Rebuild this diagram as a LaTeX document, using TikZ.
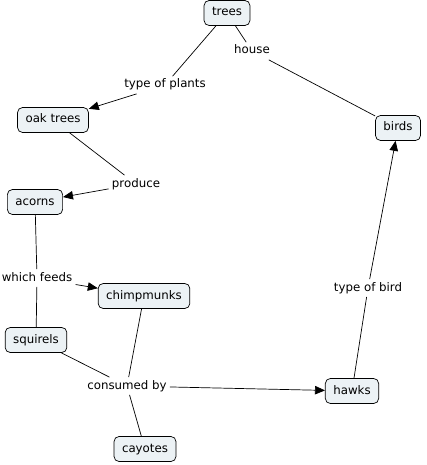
\documentclass[tikz,border=0pt]{standalone}
\usepackage{fontspec}
\setmainfont{DejaVu Sans}
\usetikzlibrary{arrows.meta}
\definecolor{cmapfill}{RGB}{236,242,245}

\begin{document}
\begin{tikzpicture}[x=1pt,y=-1pt,>={Triangle[length=10pt,width=8.5pt]},
  concept/.style={draw,line width=0.7pt,rounded corners=5pt,fill=cmapfill,
    inner xsep=8pt,inner ysep=0pt,minimum height=25pt,
    text height=8.5pt,text depth=2.5pt,font=\fontsize{11.8}{13}\selectfont},
  linking/.style={inner sep=3pt,text height=8.5pt,text depth=2.5pt,
    font=\fontsize{11.8}{13}\selectfont},
  every path/.style={line width=0.7pt}]
  \useasboundingbox (0,0) rectangle (427,465);
  % concepts
  \node[concept] (trees) at (227,13) {trees};
  \node[concept] (oak) at (53,120) {oak trees};
  \node[concept] (birds) at (398,128) {birds};
  \node[concept] (acorns) at (35,202) {acorns};
  \node[concept] (chimp) at (144,296) {chimpmunks};
  \node[concept] (squirels) at (36,340) {squirels};
  \node[concept] (hawks) at (352,391) {hawks};
  \node[concept] (cayotes) at (145,449) {cayotes};
  % linking phrases
  \node[linking] (plants) at (165,85) {type of plants};
  \node[linking] (house) at (252,51) {house};
  \node[linking] (produce) at (136,184) {produce};
  \node[linking] (feeds) at (37,278) {which feeds};
  \node[linking] (consumed) at (127,386) {consumed by};
  \node[linking] (bird) at (368,288) {type of bird};
  % links
  \draw (trees) -- (plants);
  \draw[->] (plants) -- (oak);
  \draw (trees) -- (house);
  \draw (house) -- (birds);
  \draw (oak) -- (produce);
  \draw[->] (produce) -- (acorns);
  \draw (acorns) -- (feeds);
  \draw[->] (feeds) -- (chimp);
  \draw (feeds) -- (squirels);
  \draw (squirels) -- (consumed);
  \draw (chimp) -- (consumed);
  \draw (consumed) -- (cayotes);
  \draw[->] (consumed) -- (hawks);
  \draw (hawks) -- (bird);
  \draw[->] (bird) -- (birds);
\end{tikzpicture}
\end{document}
